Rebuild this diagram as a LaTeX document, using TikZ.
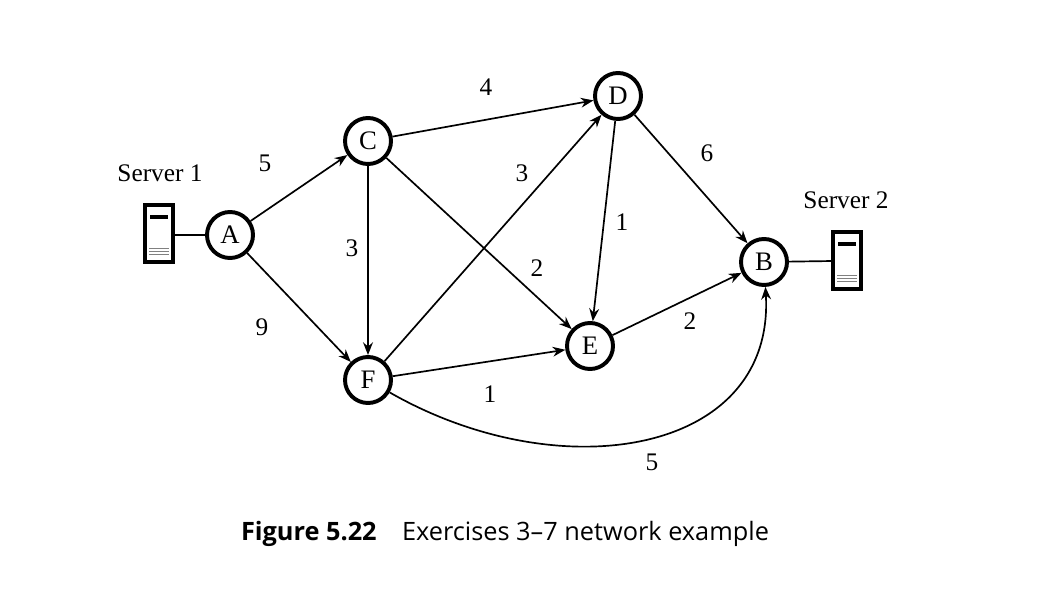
\documentclass[tikz,border=0pt]{standalone}
\usepackage{fontspec}
\setmainfont{Liberation Serif}
\newfontfamily\capfont{Open Sans}
\usetikzlibrary{arrows.meta}
\begin{document}
\begin{tikzpicture}[x=0.025cm,y=-0.025cm,
  nd/.style={circle,draw,line width=2.8pt,minimum size=46*0.025cm,inner sep=0pt,font=\fontsize{19}{19}\selectfont},
  ar/.style={-{Stealth[length=9pt,width=7pt]},line width=1.2pt},
  lb/.style={font=\fontsize{18}{18}\selectfont}]
\useasboundingbox (0,0) rectangle (1061,597);
\node[nd] (A) at (230,235) {A};
\node[nd] (C) at (368,141) {C};
\node[nd] (D) at (618,96) {D};
\node[nd] (F) at (368,380) {F};
\node[nd] (E) at (590,346) {E};
\node[nd] (B) at (764,262) {B};
% servers
\foreach \n/\x/\y in {s1/145/205,s2/833/232}{
  \draw[line width=2.2pt] (\x,\y) rectangle ++(28,57);
  \draw[line width=2.4pt] (\x+5,\y+12) -- ++(18,0);
  \draw[gray,line width=0.6pt] (\x+4,\y+43) -- ++(20,0) (\x+4,\y+46) -- ++(20,0) (\x+4,\y+49) -- ++(20,0);
}
\coordinate (s1r) at (173,235);
\draw[line width=1.2pt] (s1r) -- (A);
\coordinate (s2l) at (833,261);
\draw[line width=1.2pt] (B) -- (s2l);
\node[lb] at (160,173) {Server 1};
\node[lb] at (846,200) {Server 2};
\draw[ar] (A) -- (C); \node[lb] at (265,163) {5};
\draw[ar] (A) -- (F); \node[lb] at (262,327) {9};
\draw[ar] (C) -- (D); \node[lb] at (486,87) {4};
\draw[ar] (C) -- (F); \node[lb] at (352,248) {3};
\draw[ar] (C) -- (E); \node[lb] at (537,268) {2};
\draw[ar] (F) -- (D); \node[lb] at (522,173) {3};
\draw[ar] (D) -- (E); \node[lb] at (622,222) {1};
\draw[ar] (D) -- (B); \node[lb] at (707,153) {6};
\draw[ar] (E) -- (B); \node[lb] at (690,321) {2};
\draw[ar] (F) -- (E); \node[lb] at (490,394) {1};
\draw[ar] (F) .. controls (560,490) and (775,455) .. (B); \node[lb] at (652,462) {5};
\node[font=\capfont\fontsize{18}{18}\selectfont] (cap) at (505,534) {\textbf{Figure 5.22}\quad Exercises 3–7 network example};
\end{tikzpicture}
\end{document}
